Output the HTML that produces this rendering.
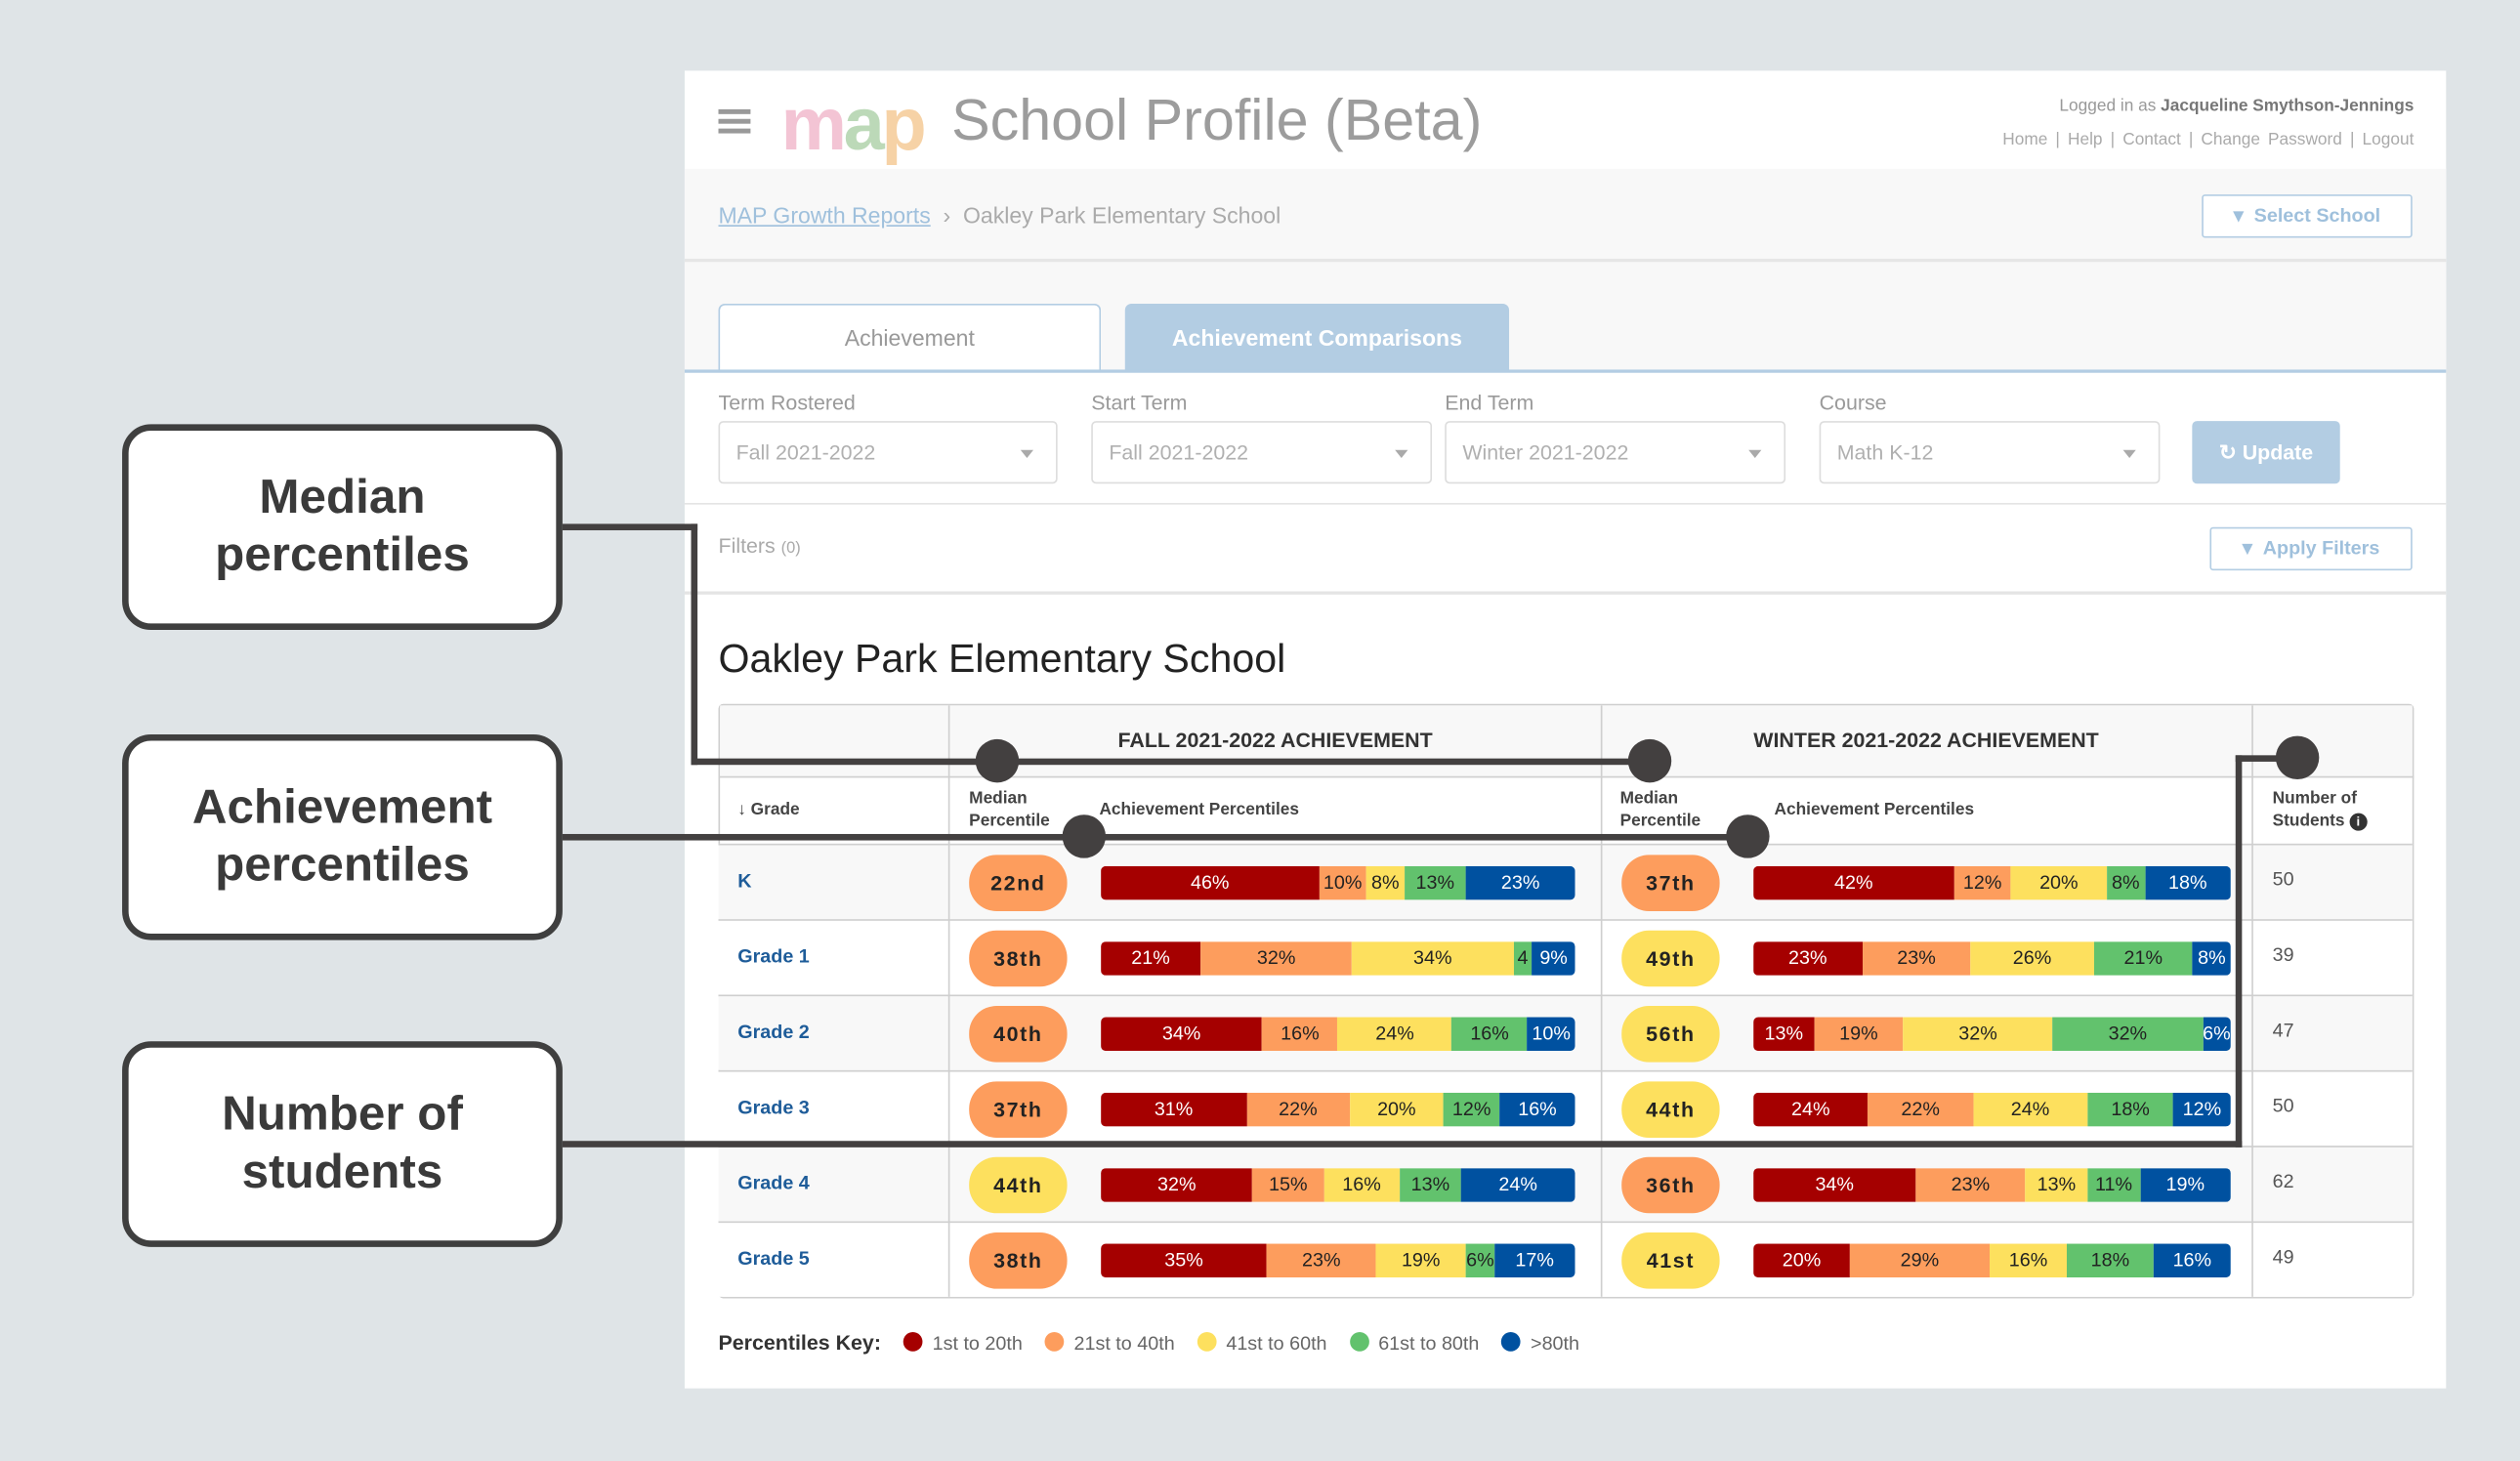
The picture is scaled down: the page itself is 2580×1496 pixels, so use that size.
<!DOCTYPE html>
<html><head><meta charset="utf-8">
<style>
*{box-sizing:border-box;margin:0;padding:0}
html,body{width:2580px;height:1495px;overflow:hidden;background:#dfe4e7;font-family:"Liberation Sans",sans-serif}
#s{position:absolute;left:0;top:0;width:1568px;height:909px;transform:scale(1.64541);transform-origin:0 0}
.a{position:absolute}
.panel{left:426px;top:44px;width:1096px;height:820px;background:#fff}
.lbl{font-size:13px;color:#9a9a9a}
.sel{height:39px;border:1px solid #ddd;border-radius:3px;background:#fff;font-size:13px;color:#b0b0b0;padding:11px 10px}
.sel:after{content:"";position:absolute;right:14px;top:17px;border:4px solid transparent;border-top:5px solid #aaa}
.btn{border:1px solid #b3cde3;border-radius:2px;background:#fff;color:#9fc0dc;font-size:12px;font-weight:bold;text-align:center}
.row{position:absolute;left:447px;width:1054px;height:47px;border-top:1px solid #cfcfcf}
.pill{position:absolute;width:61px;height:35px;border-radius:17px;font-weight:bold;font-size:13px;letter-spacing:1px;text-align:center;line-height:35px;color:#222}
.bar{position:absolute;height:21px;display:flex;border-radius:3px;overflow:hidden;font-size:12px;line-height:21px}
.bar div{text-align:center;white-space:nowrap;overflow:hidden;color:#222}
.g{position:absolute;left:12px;top:15px;font-size:12px;font-weight:bold;color:#1e5c99}
.n{position:absolute;left:967px;top:14px;font-size:12px;color:#555}
.box{position:absolute;left:76px;width:274px;height:128px;border:4.5px solid #3f3f3f;border-radius:18px;background:#fff;font-size:30px;font-weight:bold;color:#3a3a3a;text-align:center;line-height:36px;display:flex;align-items:center;justify-content:center}
.ln{position:absolute;background:#434040}
.dot{position:absolute;width:27px;height:27px;border-radius:50%;background:#434040}
.vd{position:absolute;width:1px;background:#cfcfcf}
.kd{display:inline-block;width:12px;height:12px;border-radius:50%;vertical-align:-1px;margin:0 6px 0 14px}
</style></head><body><div id="s">
<div class="a panel"></div>
<div class="a" style="left:447px;top:68px;width:20px;height:3px;background:#999;box-shadow:0 6px 0 #999,0 12px 0 #999"></div>
<div class="a" style="left:486px;top:50px;font-size:46px;font-weight:bold;letter-spacing:-2px"><span style="color:#f3c4d4">m</span><span style="color:#bcd9b8">a</span><span style="color:#f6d2a6">p</span></div>
<div class="a" style="left:592px;top:54px;font-size:36px;color:#9c9c9c">School Profile (Beta)</div>
<div class="a" style="right:66px;top:60px;font-size:10.5px;color:#999">Logged in as <b style="color:#777">Jacqueline Smythson-Jennings</b></div>
<div class="a" style="right:66px;top:81px;font-size:10.5px;color:#aaa;word-spacing:2px">Home | Help | Contact | Change Password | Logout</div>
<div class="a" style="left:426px;top:105px;width:1096px;height:125px;background:#f8f8f8"></div>
<div class="a" style="left:426px;top:161px;width:1096px;height:2px;background:#e6e6e6"></div>
<div class="a" style="left:447px;top:126px;font-size:14px;color:#aaa"><span style="color:#9fc0dc;text-decoration:underline">MAP Growth Reports</span> &nbsp;›&nbsp; Oakley Park Elementary School</div>
<div class="a btn" style="left:1370px;top:121px;width:131px;height:27px;line-height:25px">▾ &nbsp;Select School</div>
<div class="a" style="left:447px;top:189px;width:238px;height:42px;background:#fff;border:1px solid #b3cde3;border-bottom:none;border-radius:4px 4px 0 0;font-size:14px;color:#999;text-align:center;line-height:40px">Achievement</div>
<div class="a" style="left:700px;top:189px;width:239px;height:42px;background:#b3cde3;border-radius:4px 4px 0 0;font-size:14px;color:#fff;font-weight:bold;text-align:center;line-height:42px">Achievement Comparisons</div>
<div class="a" style="left:426px;top:230px;width:1096px;height:2px;background:#b3cde3"></div>
<div class="a lbl" style="left:447px;top:243px">Term Rostered</div>
<div class="a lbl" style="left:679px;top:243px">Start Term</div>
<div class="a lbl" style="left:899px;top:243px">End Term</div>
<div class="a lbl" style="left:1132px;top:243px">Course</div>
<div class="a sel" style="left:447px;top:262px;width:211px">Fall 2021-2022</div>
<div class="a sel" style="left:679px;top:262px;width:212px">Fall 2021-2022</div>
<div class="a sel" style="left:899px;top:262px;width:212px">Winter 2021-2022</div>
<div class="a sel" style="left:1132px;top:262px;width:212px">Math K-12</div>
<div class="a" style="left:1364px;top:262px;width:92px;height:39px;background:#b3cde3;border-radius:3px;color:#fff;font-weight:bold;font-size:13px;text-align:center;line-height:39px">↻ Update</div>
<div class="a" style="left:426px;top:313px;width:1096px;height:1px;background:#e4e4e4"></div>
<div class="a" style="left:447px;top:332px;font-size:13px;color:#aaa">Filters <span style="font-size:10px">(0)</span></div>
<div class="a btn" style="left:1375px;top:328px;width:126px;height:27px;line-height:25px">▾ &nbsp;Apply Filters</div>
<div class="a" style="left:426px;top:368px;width:1096px;height:2px;background:#e4e4e4"></div>
<div class="a" style="left:447px;top:396px;font-size:25px;color:#222">Oakley Park Elementary School</div>
<div class="a" style="left:447px;top:438px;width:1055px;height:370px;border:1px solid #cfcfcf;border-radius:3px"></div>
<div class="a" style="left:448px;top:439px;width:1053px;height:44px;background:#f8f8f8"></div>
<div class="a" style="left:591px;top:453px;width:405px;text-align:center;font-size:13px;font-weight:bold;color:#333">FALL 2021-2022 ACHIEVEMENT</div>
<div class="a" style="left:996px;top:453px;width:405px;text-align:center;font-size:13px;font-weight:bold;color:#333">WINTER 2021-2022 ACHIEVEMENT</div>
<div class="a" style="left:447px;top:483px;width:1055px;height:1px;background:#cfcfcf"></div>
<div class="a" style="left:459px;top:498px;font-size:10.5px;font-weight:bold;color:#444">↓ Grade</div>
<div class="a" style="left:603px;top:490px;font-size:10.5px;font-weight:bold;color:#444;line-height:14px">Median<br>Percentile</div>
<div class="a" style="left:684px;top:498px;font-size:10.5px;font-weight:bold;color:#444">Achievement Percentiles</div>
<div class="a" style="left:1008px;top:490px;font-size:10.5px;font-weight:bold;color:#444;line-height:14px">Median<br>Percentile</div>
<div class="a" style="left:1104px;top:498px;font-size:10.5px;font-weight:bold;color:#444">Achievement Percentiles</div>
<div class="a" style="left:1414px;top:490px;font-size:10.5px;font-weight:bold;color:#444;line-height:14px">Number of<br>Students <span style="display:inline-block;width:11px;height:11px;border-radius:50%;background:#333;color:#fff;font-size:8px;text-align:center;line-height:11px">i</span></div>
<div id="rows"></div>
<div class="vd" style="left:590px;top:439px;height:368px"></div>
<div class="vd" style="left:996px;top:439px;height:368px"></div>
<div class="vd" style="left:1401px;top:439px;height:368px"></div>
<div class="a" style="left:447px;top:828px;font-size:12px;color:#666"><b style="color:#333;font-size:13px">Percentiles Key:</b><span class="kd" style="background:#a50000;margin-left:14px"></span>1st to 20th<span class="kd" style="background:#fd9d5d"></span>21st to 40th<span class="kd" style="background:#fde05e"></span>41st to 60th<span class="kd" style="background:#62c26d"></span>61st to 80th<span class="kd" style="background:#0051a0"></span>&gt;80th</div>
<div class="box" style="top:264px">Median<br>percentiles</div>
<div class="box" style="top:457px">Achievement<br>percentiles</div>
<div class="box" style="top:648px">Number of<br>students</div>
<div class="ln" style="left:350px;top:326px;width:84px;height:4px"></div>
<div class="ln" style="left:430px;top:326px;width:4px;height:150px"></div>
<div class="ln" style="left:430px;top:472px;width:597px;height:4px"></div>
<div class="dot" style="left:607px;top:460px"></div>
<div class="dot" style="left:1013px;top:460px"></div>
<div class="ln" style="left:350px;top:519px;width:738px;height:4px"></div>
<div class="dot" style="left:661px;top:507px"></div>
<div class="dot" style="left:1074px;top:507px"></div>
<div class="ln" style="left:350px;top:710px;width:1045px;height:4px"></div>
<div class="ln" style="left:1391px;top:470px;width:4px;height:244px"></div>
<div class="ln" style="left:1391px;top:470px;width:39px;height:4px"></div>
<div class="dot" style="left:1416px;top:458px"></div>
</div>
<script>
var C=["#a50000","#fd9d5d","#fde05e","#62c26d","#0051a0"];
var P={o:"#fd9d5d",y:"#fde05e"};
var D=[
["K","22nd","o",[46,10,8,13,23],"37th","o",[42,12,20,8,18],50],
["Grade 1","38th","o",[21,32,34,4,9],"49th","y",[23,23,26,21,8],39],
["Grade 2","40th","o",[34,16,24,16,10],"56th","y",[13,19,32,32,6],47],
["Grade 3","37th","o",[31,22,20,12,16],"44th","y",[24,22,24,18,12],50],
["Grade 4","44th","y",[32,15,16,13,24],"36th","o",[34,23,13,11,19],62],
["Grade 5","38th","o",[35,23,19,6,17],"41st","y",[20,29,16,18,16],49]];
function bar(v,x,w){var t=v.reduce(function(a,b){return a+b},0);var h='<div class="bar" style="left:'+x+'px;top:13px;width:'+w+'px">';
v.forEach(function(p,i){var lab=(v===D[1][3]&&i==3)?"4":p+"%";h+='<div style="width:'+(p/t*100)+'%;background:'+C[i]+';color:'+(i==0||i==4?"#fff":"#222")+'">'+lab+'</div>'});return h+'</div>';}
var H="";D.forEach(function(r,i){var top=525+i*47;
H+='<div class="row" style="top:'+top+'px;background:'+(i%2?"#fff":"#f8f8f8")+'">'+
'<div class="g">'+r[0]+'</div>'+
'<div class="pill" style="left:156px;top:6px;background:'+P[r[2]]+'">'+r[1]+'</div>'+bar(r[3],238,295)+
'<div class="pill" style="left:562px;top:6px;background:'+P[r[5]]+'">'+r[4]+'</div>'+bar(r[6],644,297)+
'<div class="n">'+r[7]+'</div></div>';});
document.getElementById("rows").innerHTML=H;
</script>
</body></html>
